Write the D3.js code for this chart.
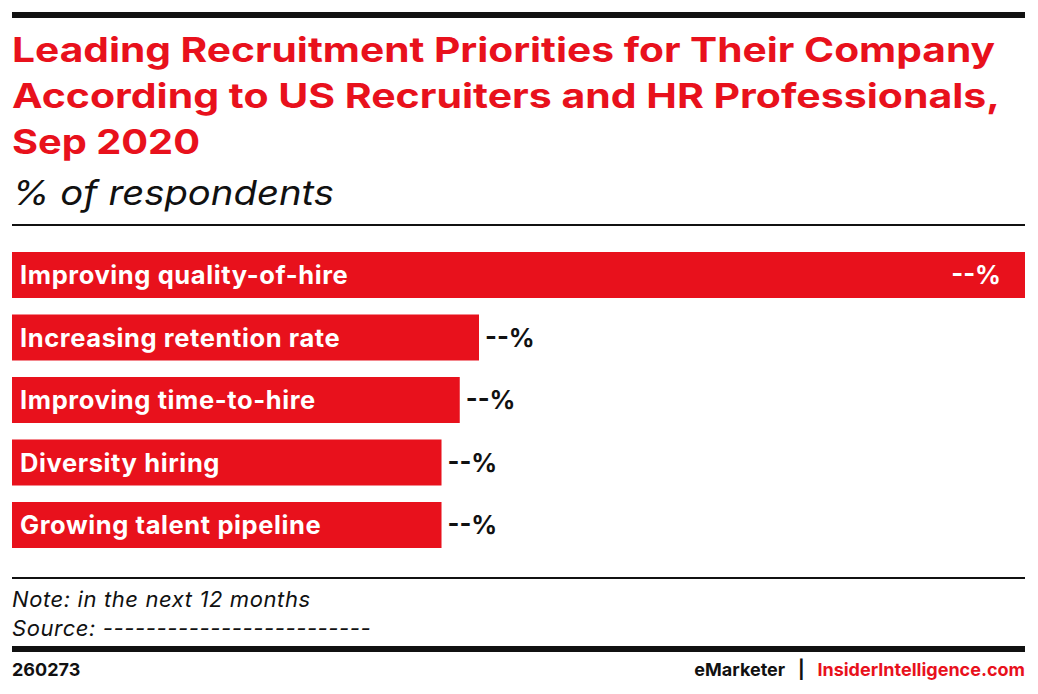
<!DOCTYPE html>
<html>
<head>
<script src="https://cdn.jsdelivr.net/npm/d3@7"></script>
<style>
body{margin:0;background:#fff;}
text{font-family:Inter,"Open Sans",sans-serif;}
</style>
</head>
<body>
<svg id="chart" width="1038" height="694"></svg>
<script>
// values are not shown in the source ("--%"), bar lengths read from picture
var categories = ["Improving quality-of-hire","Increasing retention rate","Improving time-to-hire","Diversity hiring","Growing talent pipeline"];
var values = [100, 46.1, 44.2, 42.4, 42.4];
var valueLabels = ["--%","--%","--%","--%","--%"];

var svg = d3.select("#chart");
var red = "#e8111c";

svg.append("rect").attr("x",12).attr("y",12).attr("width",1013).attr("height",6).attr("fill","#111");

var titleLines = ["Leading Recruitment Priorities for Their Company","According to US Recruiters and HR Professionals,","Sep 2020"];
var titleWidths = [983, 988, 188];
titleLines.forEach(function(t,i){
  svg.append("text").attr("x",12).attr("y",62+i*46).attr("fill",red)
    .attr("font-size",34).attr("font-weight",700)
    .attr("textLength",titleWidths[i]).attr("lengthAdjust","spacingAndGlyphs").text(t);
});
svg.append("text").attr("x",12).attr("y",205).attr("font-size",34).attr("font-style","italic")
  .attr("fill","#111").attr("textLength",322).attr("lengthAdjust","spacingAndGlyphs").text("% of respondents");
svg.append("rect").attr("x",12).attr("y",224).attr("width",1013).attr("height",2).attr("fill","#111");

var x = d3.scaleLinear().domain([0,100]).range([12,1025]);
var y = d3.scaleBand().domain(categories).range([252,548]).paddingInner(0.264).paddingOuter(0);

var g = svg.selectAll("g.bar").data(categories).enter().append("g").attr("class","bar");
g.append("rect").attr("x",x(0)).attr("y",function(d){return y(d);})
  .attr("width",function(d,i){return x(values[i])-x(0);}).attr("height",y.bandwidth()).attr("fill",red);
g.append("text").attr("x",20).attr("y",function(d){return y(d)+y.bandwidth()/2+9;})
  .attr("fill","#fff").attr("font-size",25.5).attr("font-weight",700).attr("letter-spacing",0.6).text(function(d){return d;});
g.append("text").attr("y",function(d){return y(d)+y.bandwidth()/2+9;})
  .attr("x",function(d,i){return i===0 ? x(values[i])-24 : x(values[i])+6;})
  .attr("text-anchor",function(d,i){return i===0?"end":"start";})
  .attr("fill",function(d,i){return i===0?"#fff":"#111";})
  .attr("font-size",25.5).attr("font-weight",700).text(function(d,i){return valueLabels[i];});

svg.append("rect").attr("x",12).attr("y",577).attr("width",1013).attr("height",2).attr("fill","#111");
svg.append("text").attr("x",12).attr("y",607).attr("font-size",22).attr("font-style","italic").attr("letter-spacing",0.6).attr("fill","#111").text("Note: in the next 12 months");
svg.append("text").attr("x",12).attr("y",636).attr("font-size",22).attr("font-style","italic").attr("letter-spacing",0.6).attr("fill","#111").text("Source: -------------------------");
svg.append("rect").attr("x",12).attr("y",646).attr("width",1013).attr("height",6).attr("fill","#111");
svg.append("text").attr("x",12).attr("y",676).attr("font-size",18).attr("font-weight",700).attr("fill","#111").text("260273");
var ft = svg.append("text").attr("x",1025).attr("y",676).attr("text-anchor","end").attr("font-size",18).attr("font-weight",700).attr("xml:space","preserve");
ft.append("tspan").attr("fill","#111").text("eMarketer   |   ");
ft.append("tspan").attr("fill",red).text("InsiderIntelligence.com");
</script>
</body>
</html>
